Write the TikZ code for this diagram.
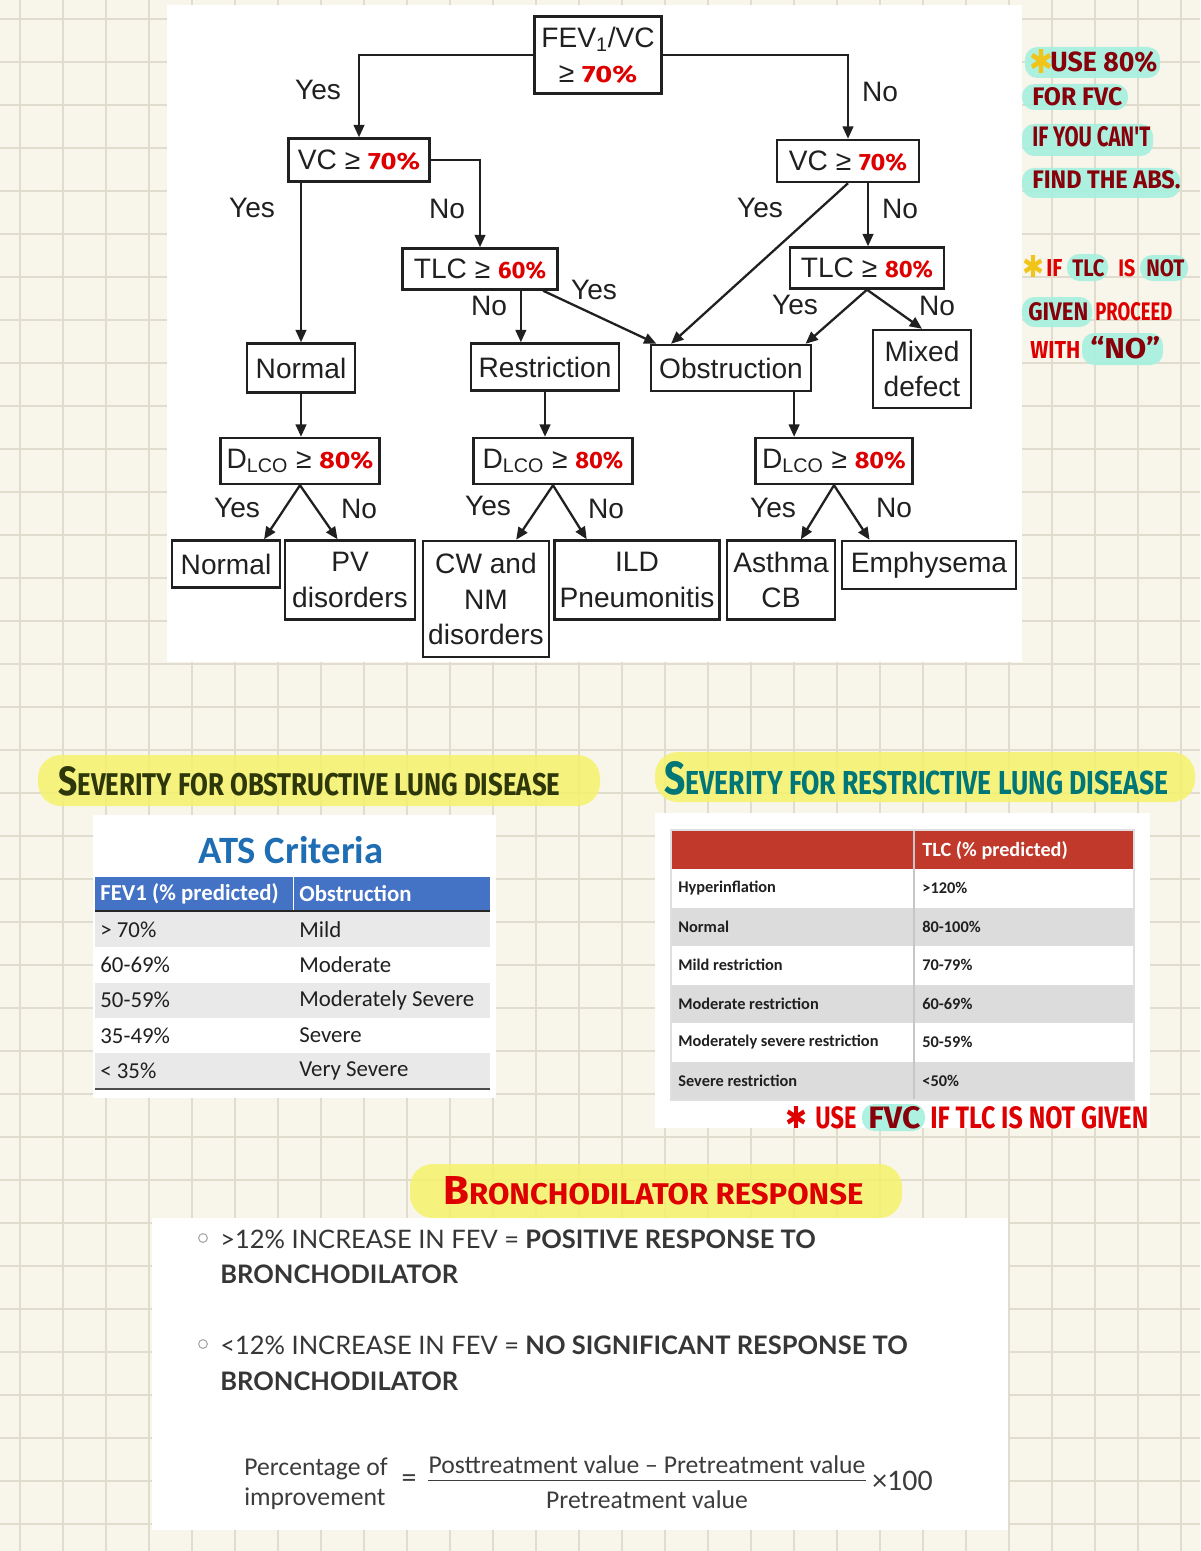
\documentclass[tikz,border=0pt]{standalone}
\usepackage{fontspec}
\usepackage{tikz}
\usetikzlibrary{arrows.meta,positioning}

\setmainfont{Liberation Sans}
\newfontfamily\handfont{Fira Sans}
\newfontfamily\calfont{Carlito}
\newfontfamily\latofont{Lato}
\newfontfamily\symfont{DejaVu Sans}

\definecolor{paper}{RGB}{248,246,234}
\definecolor{gridc}{RGB}{224,221,207}
\definecolor{ink}{RGB}{32,32,32}
\definecolor{penred}{RGB}{222,0,0}
\definecolor{pendark}{RGB}{135,0,10}
\definecolor{penolive}{RGB}{45,55,10}
\definecolor{penteal}{RGB}{0,118,118}
\definecolor{hlyellow}{RGB}{246,242,108}
\definecolor{hlcyan}{RGB}{165,240,222}
\definecolor{stary}{RGB}{240,196,24}
\definecolor{atsblue}{RGB}{31,110,180}
\definecolor{atshead}{RGB}{68,114,196}
\definecolor{tlchead}{RGB}{192,57,43}
\definecolor{rowa}{RGB}{233,233,233}
\definecolor{rowb}{RGB}{220,220,220}
\definecolor{formc}{RGB}{60,60,60}

\newlength\pxu
\setlength\pxu{0.02cm}
% hand lettering squeezed into a box of w x h pixels
\newcommand\hw[3]{\resizebox{#1\pxu}{#2\pxu}{\handfont\bfseries #3}}
\newcommand\val[2][48]{{\color{penred}\hw{#1}{17}{#2}}}
\newcommand\hstar[1]{\resizebox{#1\pxu}{#1\pxu}{\symfont ✱}}

\begin{document}
\begin{tikzpicture}[x=0.02cm, y=-0.02cm,
    box/.style={draw=ink, line width=1.4pt, text=ink, align=center, inner sep=0pt,
                font=\fontsize{16}{20}\selectfont},
    lbl/.style={text=ink, inner sep=0pt, font=\fontsize{16}{20}\selectfont},
    arr/.style={draw=ink, line width=1.3pt, -{Triangle[length=7pt,width=6pt]}},
    hlbar/.style={fill=hlyellow, fill opacity=0.85, rounded corners=13pt},
    hlspot/.style={fill=hlcyan, fill opacity=0.9, rounded corners=7pt},
    note/.style={inner sep=0pt, anchor=base west},
    cell/.style={inner sep=0pt, anchor=west, text=ink, font=\calfont\fontsize{13}{15}\selectfont},
    hcell/.style={inner sep=0pt, anchor=west, text=white, font=\calfont\bfseries\fontsize{13}{15}\selectfont},
    tcell/.style={inner sep=0pt, anchor=west, text=ink, font=\calfont\bfseries\fontsize{9.3}{11}\selectfont},
    btxt/.style={inner sep=0pt, anchor=base west, text=ink!90, font=\latofont\fontsize{14.5}{18}\selectfont},
    ftxt/.style={inner sep=0pt, text=formc, font=\calfont\fontsize{14.6}{17}\selectfont},
    bullet/.style={circle, draw=gray!70, line width=0.6pt, inner sep=0pt, minimum size=5pt}]

    % --- paper ---
    \useasboundingbox (0,0) rectangle (1200,1551);
    \fill[paper] (0,0) rectangle (1200,1551);
    \foreach \g in {20,63,...,1200} \draw[gridc, line width=0.8pt] (\g,0) -- (\g,1551);
    \foreach \g in {19,62,...,1551} \draw[gridc, line width=0.8pt] (0,\g) -- (1200,\g);

    % --- FLOWCHART ---
    \fill[white] (167,5) rectangle (1022,662);
    \node[box, minimum width=2.54cm, minimum height=1.54cm] (fev) at (598,55) {FEV\textsubscript{1}/VC\\≥ \val[55]{70\%}};
    \node[box, minimum width=2.82cm, minimum height=0.86cm] (vcL) at (359,160) {VC ≥ \val[52]{70\%}};
    \node[box, minimum width=2.84cm, minimum height=0.84cm] (vcR) at (848,161) {VC ≥ \val{70\%}};
    \node[box, minimum width=3.1cm, minimum height=0.82cm] (tlcL) at (480,269) {TLC ≥ \val{60\%}};
    \node[box, minimum width=3.08cm, minimum height=0.82cm] (tlcR) at (867,268) {TLC ≥ \val{80\%}};
    \node[box, minimum width=2.16cm, minimum height=0.98cm] (nrm) at (301,368) {Normal};
    \node[box, minimum width=2.96cm, minimum height=0.94cm] (rst) at (545,367) {Restriction};
    \node[box, minimum width=3.2cm, minimum height=0.92cm] (obs) at (731,368) {Obstruction};
    \node[box, minimum width=1.96cm, minimum height=1.56cm] (mix) at (922,369) {Mixed\\defect};
    \node[box, minimum width=3.18cm, minimum height=0.92cm] (dl1) at (300,461) {D\textsubscript{LCO} ≥ \val[54]{80\%}};
    \node[box, minimum width=3.18cm, minimum height=0.92cm] (dl2) at (553,461) {D\textsubscript{LCO} ≥ \val{80\%}};
    \node[box, minimum width=3.14cm, minimum height=0.92cm] (dl3) at (834,461) {D\textsubscript{LCO} ≥ \val[51]{80\%}};
    \node[box, minimum width=2.16cm, minimum height=0.94cm] (nrmB) at (226,564) {Normal};
    \node[box, minimum width=2.6cm, minimum height=1.58cm] (pvd) at (350,580) {PV\\disorders};
    \node[box, minimum width=2.52cm, minimum height=2.32cm] (cwd) at (486,599) {CW and\\NM\\disorders};
    \node[box, minimum width=3.3cm, minimum height=1.58cm] (ild) at (637,580) {ILD\\Pneumonitis};
    \node[box, minimum width=2.16cm, minimum height=1.58cm] (ast) at (781,580) {Asthma\\CB};
    \node[box, minimum width=3.48cm, minimum height=0.96cm] (emp) at (929,565) {Emphysema};

    \draw[arr] (fev.west) -| (vcL.north);
    \draw[arr] (fev.east) -| (vcR.north);
    \draw[arr] (nrm.north |- vcL.south) -- (nrm.north);
    \draw[arr] (vcL.east) -| (tlcL.north);
    \draw[arr] (tlcL.-28) -- (tlcL.-28 |- rst.north);
    \draw[arr] (tlcL.-19) -- (obs.162);
    \draw[arr] (vcR.south) -- (obs.158);
    \draw[arr] (vcR.-48) -- (vcR.-48 |- tlcR.north);
    \draw[arr] (tlcR.south) -- (obs.18);
    \draw[arr] (tlcR.south) -- (mix.north);
    \draw[arr] (nrm.south) -- (nrm.south |- dl1.north);
    \draw[arr] (rst.south) -- (rst.south |- dl2.north);
    \draw[arr] (obs.-21) -- (obs.-21 |- dl3.north);
    \draw[arr] (dl1.south) -- (nrmB.33);
    \draw[arr] (dl1.south) -- (pvd.107);
    \draw[arr] (dl2.south) -- (cwd.63);
    \draw[arr] (dl2.south) -- (ild.141);
    \draw[arr] (dl3.south) -- (ast.64);
    \draw[arr] (dl3.south) -- (emp.157);

    \node[lbl] (yesA) at (318,90) {Yes};
    \node[lbl] (noA) at (880,92) {No};
    \node[lbl] (yesB) at (252,208) {Yes};
    \node[lbl] (noB) at (447,209) {No};
    \node[lbl] (yesC) at (594,290) {Yes};
    \node[lbl] (noC) at (489,306) {No};
    \node[lbl] (yesD) at (760,208) {Yes};
    \node[lbl] (noD) at (900,209) {No};
    \node[lbl] (yesE) at (795,305) {Yes};
    \node[lbl] (noE) at (937,306) {No};
    \node[lbl] (yesF) at (237,508) {Yes};
    \node[lbl] (noF) at (359,509) {No};
    \node[lbl] (yesG) at (488,506) {Yes};
    \node[lbl] (noG) at (606,509) {No};
    \node[lbl] (yesH) at (773,508) {Yes};
    \node[lbl] (noH) at (894,508) {No};

    % --- notes beside the chart ---
    \fill[hlspot] (1025,47) rectangle (1160,78);
    \fill[hlspot] (1022,84) rectangle (1128,110);
    \fill[hlspot] (1022,124) rectangle (1153,156);
    \fill[hlspot] (1022,168) rectangle (1180,198);
    \fill[hlspot] (1067,254) rectangle (1108,281);
    \fill[hlspot] (1140,255) rectangle (1188,281);
    \fill[hlspot] (1022,297) rectangle (1092,327);
    \fill[hlspot] (1082,333) rectangle (1163,365);
    \node[note, text=stary] (starA) at (1029,74) {\hstar{24}};
    \node[note, text=pendark] (ntA) at (1050,72) {\hw{107}{20}{USE 80\%}};
    \node[note, text=pendark] (ntB) at (1032,106) {\hw{90}{18}{FOR FVC}};
    \node[note, text=pendark] (ntC) at (1032,147) {\hw{118}{20}{IF YOU CAN'T}};
    \node[note, text=pendark] (ntD) at (1032,189) {\hw{148}{18}{FIND THE ABS.}};
    \node[note, text=stary] (starB) at (1022,277) {\hstar{22}};
    \node[note, text=penred] (ntE) at (1046,276) {\hw{16}{17}{IF}};
    \node[note, text=pendark] (ntF) at (1072,276) {\hw{32}{17}{TLC}};
    \node[note, text=penred] (ntG) at (1118,276) {\hw{17}{17}{IS}};
    \node[note, text=pendark] (ntH) at (1146,276) {\hw{38}{17}{NOT}};
    \node[note, text=pendark] (ntI) at (1028,320) {\hw{60}{18}{GIVEN}};
    \node[note, text=penred] (ntJ) at (1095,320) {\hw{77}{18}{PROCEED}};
    \node[note, text=penred] (ntK) at (1030,358) {\hw{50}{17}{WITH}};
    \node[note, text=pendark] (ntL) at (1090,358) {\hw{70}{22}{“NO”}};

    % --- section titles ---
    \fill[hlbar] (38,755) rectangle (600,806);
    \node[note, text=penolive] (ttlObs) at (58,795) {\hw{502}{29}{{\fontsize{13}{13}\selectfont S}EVERITY FOR OBSTRUCTIVE LUNG DISEASE}};
    \fill[hlbar] (655,752) rectangle (1195,802);
    \node[note, text=penteal] (ttlRes) at (664,794) {\hw{504}{33}{{\fontsize{14}{14}\selectfont S}EVERITY FOR RESTRICTIVE LUNG DISEASE}};

    % --- ATS table ---
    \fill[white] (93,815) rectangle (496,1098);
    \node[inner sep=0pt, text=atsblue, font=\calfont\bfseries\fontsize{22}{24}\selectfont] (atsT) at (291,850) {ATS Criteria};
    \fill[atshead] (95,877) rectangle (490,911);
    \draw[white, line width=0.5pt] (293,877) -- (293,911);
    \node[hcell] (atsH1) at (100,894) {FEV1 (\% predicted)};
    \node[hcell] (atsH2) at (299,894) {Obstruction};
    \foreach \i/\c/\a/\b in {1/rowa/{> 70\%}/Mild, 2/white/{60-69\%}/Moderate,
        3/rowa/{50-59\%}/Moderately Severe, 4/white/{35-49\%}/Severe, 5/rowa/{< 35\%}/Very Severe}{
        \fill[\c] (95,877+35.2*\i) rectangle (490,912+35.2*\i);
        \node[cell] (atsL\i) at (100,894.6+35.2*\i) {\a};
        \node[cell] (atsR\i) at (299,894.6+35.2*\i) {\b};
    }
    \draw[black!85, line width=1.4pt] (95,911) -- (490,911);
    \draw[black!70, line width=1.6pt] (95,1089) -- (490,1089);

    % --- TLC table ---
    \fill[white] (655,813) rectangle (1150,1128);
    \fill[tlchead] (671,830) rectangle (1134,869);
    \node[inner sep=0pt, anchor=west, text=white, font=\calfont\bfseries\fontsize{11.5}{13}\selectfont] (tlcHd) at (922,851) {TLC (\% predicted)};
    \foreach \i/\c/\a/\b in {1/white/Hyperinflation/{>120\%}, 2/rowb/Normal/{80-100\%},
        3/white/Mild restriction/{70-79\%}, 4/rowb/Moderate restriction/{60-69\%},
        5/white/Moderately severe restriction/{50-59\%}, 6/rowb/Severe restriction/{<50\%}}{
        \fill[\c] (671,830.5+38.5*\i) rectangle (1134,869+38.5*\i);
        \node[tcell] (tlL\i) at (678,849.75+38.5*\i) {\a};
        \node[tcell] (tlR\i) at (922,849.75+38.5*\i) {\b};
    }
    \draw[gray!45, line width=0.6pt] (914,830) -- (914,1100);
    \draw[gray!25, line width=0.6pt] (671,830) rectangle (1134,1100);

    % note under the TLC table
    \fill[hlspot] (862,1104) rectangle (925,1131);
    \node[note, text=penred] (starC) at (785,1128) {\hstar{22}};
    \node[note, text=penred] (bnA) at (815,1128) {\hw{41}{22}{USE}};
    \node[note, text=pendark] (bnB) at (868,1128) {\hw{52}{22}{FVC}};
    \node[note, text=penred] (bnC) at (930,1128) {\hw{218}{22}{IF TLC IS NOT GIVEN}};

    % --- BRONCHODILATOR ---
    \fill[white] (152,1218) rectangle (1008,1530);
    \fill[hlbar] (410,1164) rectangle (902,1218);
    \node[note, text=penred] (ttlBd) at (443,1204) {\hw{420}{28}{{\fontsize{13.5}{13.5}\selectfont B}RONCHODILATOR RESPONSE}};
    \node[bullet] (buA) at (203,1238) {};
    \node[btxt] (bdA) at (220,1248) {>12\% INCREASE IN FEV = \textbf{POSITIVE RESPONSE TO}};
    \node[btxt] (bdAb) at (220,1283) {\textbf{BRONCHODILATOR}};
    \node[bullet] (buB) at (203,1344) {};
    \node[btxt] (bdB) at (220,1354) {<12\% INCREASE IN FEV = \textbf{NO SIGNIFICANT RESPONSE TO}};
    \node[btxt] (bdBb) at (220,1390) {\textbf{BRONCHODILATOR}};

    \node[ftxt, align=left, anchor=west] (pctL) at (244,1484) {Percentage of\\improvement};
    \node[ftxt, font=\calfont\fontsize{17}{17}\selectfont] (eqS) at (409,1481) {=};
    \node[ftxt, anchor=base] (numT) at (647,1473) {Posttreatment value – Pretreatment value};
    \node[ftxt, anchor=base] (denT) at (647,1508) {Pretreatment value};
    \draw[formc, line width=0.8pt] ([yshift=-4pt]numT.south west) -- ([yshift=-4pt]numT.south east);
    \node[ftxt, anchor=west, font=\calfont\fontsize{17}{17}\selectfont] (mulT) at (872,1481) {×100};
\end{tikzpicture}
\end{document}
